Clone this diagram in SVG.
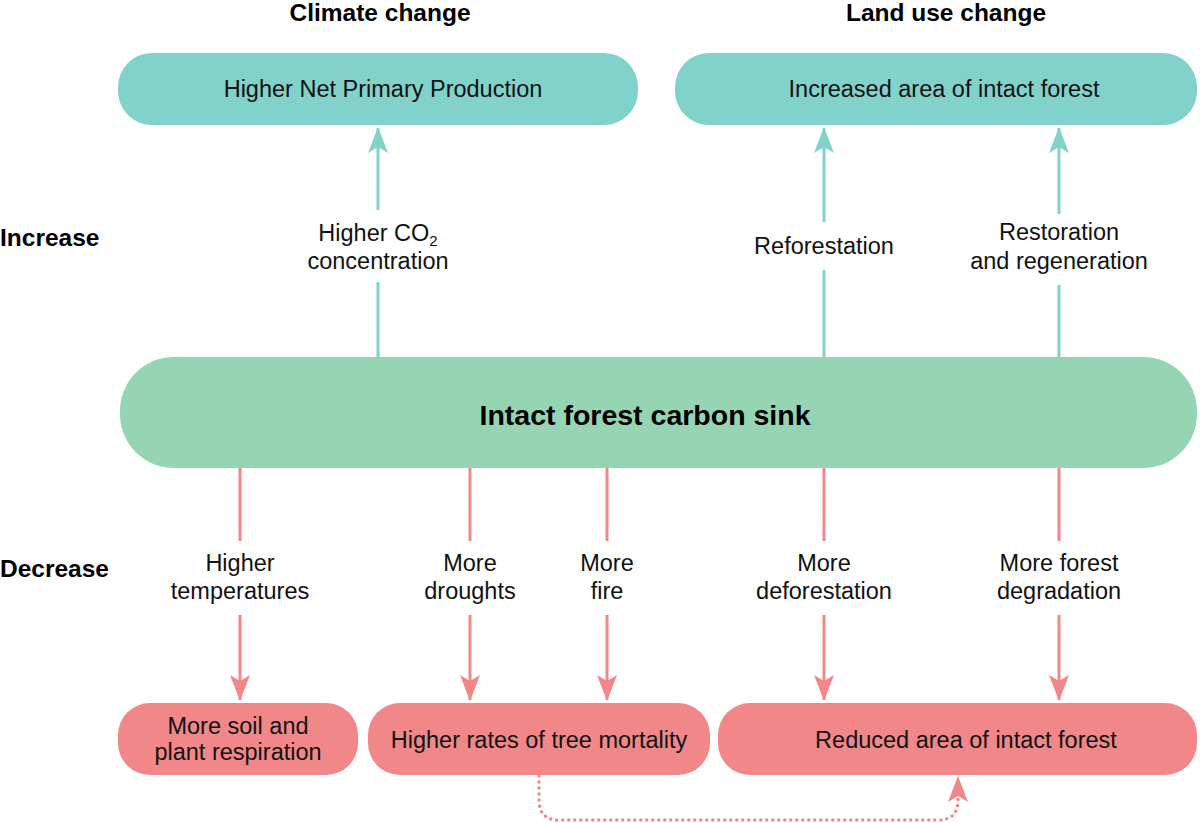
<svg xmlns="http://www.w3.org/2000/svg" width="1200" height="823" viewBox="0 0 1200 823">
<defs>
<style>
.t{font-family:"Liberation Sans",Arial,sans-serif;font-size:23.5px;fill:#111;text-anchor:middle}
.h{font-family:"Liberation Sans",Arial,sans-serif;font-size:24.5px;font-weight:bold;fill:#000}
.c{font-family:"Liberation Sans",Arial,sans-serif;font-size:28.5px;font-weight:bold;fill:#000;text-anchor:middle}
.up{fill:#80D2CA}
.mid{fill:#95D5B3}
.dn{fill:#F2878A}
.lu{stroke:#80D2CA;stroke-width:3;fill:none}
.ld{stroke:#F2878A;stroke-width:3;fill:none}
.dot{stroke:#F2878A;stroke-width:3.5;fill:none;stroke-dasharray:0 6;stroke-linecap:round}
</style>
<marker id="at" markerUnits="userSpaceOnUse" viewBox="0 0 26 20" refX="25" refY="10" markerWidth="26" markerHeight="20" orient="auto">
<path d="M0,0 L26,10 L0,20 L6,10 z" fill="#80D2CA"/>
</marker>
<marker id="ar" markerUnits="userSpaceOnUse" viewBox="0 0 26 20" refX="25" refY="10" markerWidth="26" markerHeight="20" orient="auto">
<path d="M0,0 L26,10 L0,20 L6,10 z" fill="#F2878A"/>
</marker>
</defs>
<rect width="1200" height="823" fill="#fff"/>

<text class="h" x="380" y="21" text-anchor="middle">Climate change</text>
<text class="h" x="946" y="21" text-anchor="middle">Land use change</text>
<text class="h" x="0" y="246">Increase</text>
<text class="h" x="0" y="577">Decrease</text>

<g id="connectors">
<path class="lu" d="M378,357 V282"/>
<path class="lu" d="M378,210 V128" marker-end="url(#at)"/>
<path class="lu" d="M824,357 V270"/>
<path class="lu" d="M824,222 V128" marker-end="url(#at)"/>
<path class="lu" d="M1059,357 V285"/>
<path class="lu" d="M1059,214 V128" marker-end="url(#at)"/>
<path class="ld" d="M240,468 V541"/>
<path class="ld" d="M240,615 V700" marker-end="url(#ar)"/>
<path class="ld" d="M470,468 V541"/>
<path class="ld" d="M470,615 V700" marker-end="url(#ar)"/>
<path class="ld" d="M607,468 V541"/>
<path class="ld" d="M607,615 V700" marker-end="url(#ar)"/>
<path class="ld" d="M824,468 V541"/>
<path class="ld" d="M824,615 V700" marker-end="url(#ar)"/>
<path class="ld" d="M1059,468 V541"/>
<path class="ld" d="M1059,615 V700" marker-end="url(#ar)"/>
<path class="dot" d="M539,776 V800 Q539,820 559,820 H938 Q958,820 958,800 V795"/>
<path d="M958,776 L968,802 L958,796 L948,802 z" fill="#F2878A"/>
<text class="t" x="378" y="241">Higher CO<tspan font-size="15" dy="5">2</tspan></text>
<text class="t" x="378" y="269">concentration</text>
<text class="t" x="824" y="254">Reforestation</text>
<text class="t" x="1059" y="240">Restoration</text>
<text class="t" x="1059" y="269">and regeneration</text>
<text class="t" x="240" y="571">Higher</text>
<text class="t" x="240" y="599">temperatures</text>
<text class="t" x="470" y="571">More</text>
<text class="t" x="470" y="599">droughts</text>
<text class="t" x="607" y="571">More</text>
<text class="t" x="607" y="599">fire</text>
<text class="t" x="824" y="571">More</text>
<text class="t" x="824" y="599">deforestation</text>
<text class="t" x="1059" y="571">More forest</text>
<text class="t" x="1059" y="599">degradation</text>
</g>

<g id="npp">
<rect class="up" x="118" y="53" width="520" height="72" rx="34"/>
<text class="t" x="383" y="97">Higher Net Primary Production</text>
</g>
<g id="intact-up">
<rect class="up" x="675" y="53" width="522" height="72" rx="34"/>
<text class="t" x="944" y="97">Increased area of intact forest</text>
</g>
<g id="sink">
<rect class="mid" x="120" y="357" width="1077" height="111" rx="54"/>
<text class="c" x="645" y="425">Intact forest carbon sink</text>
</g>
<g id="respiration">
<rect class="dn" x="118" y="703" width="240" height="72" rx="32"/>
<text class="t" x="238" y="734">More soil and</text>
<text class="t" x="238" y="760">plant respiration</text>
</g>
<g id="mortality">
<rect class="dn" x="368" y="703" width="342" height="72" rx="32"/>
<text class="t" x="539" y="748">Higher rates of tree mortality</text>
</g>
<g id="reduced">
<rect class="dn" x="718" y="703" width="479" height="72" rx="32"/>
<text class="t" x="966" y="748">Reduced area of intact forest</text>
</g>
</svg>
